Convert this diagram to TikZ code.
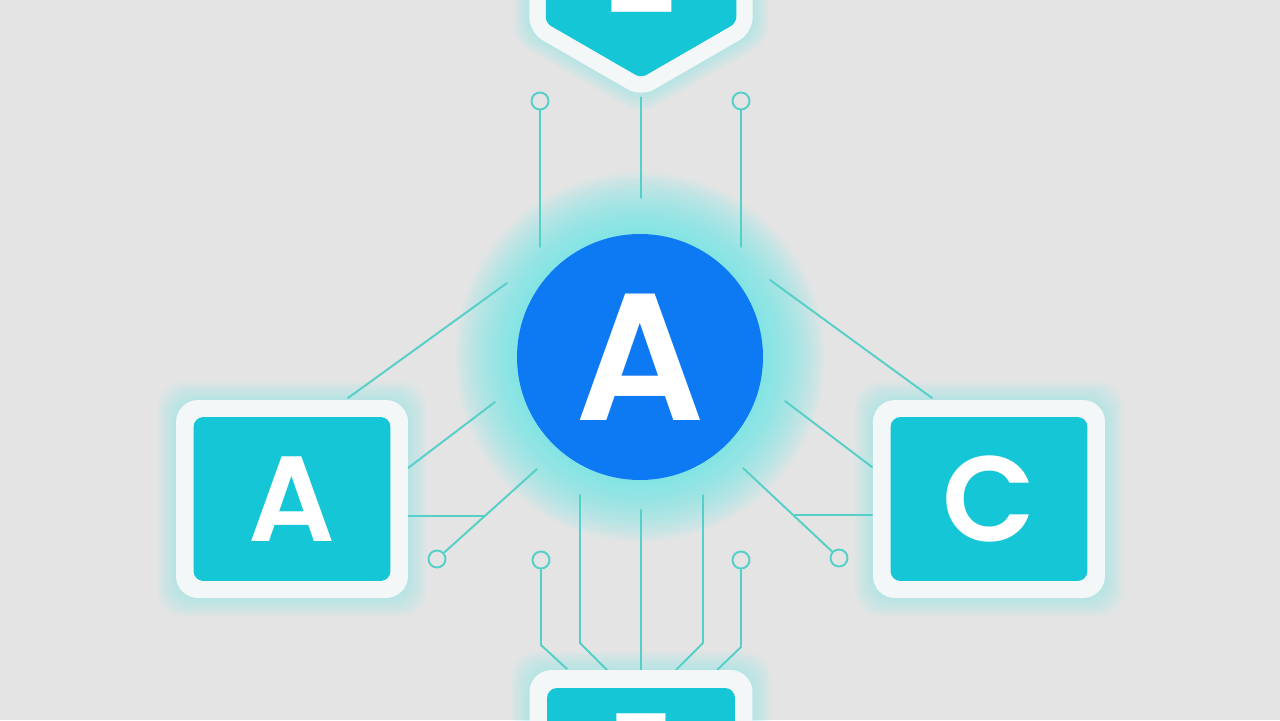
\documentclass[tikz,border=0pt]{standalone}
\usepackage{fontspec}
\setmainfont{Poppins}[BoldFont={Poppins SemiBold}]
\usepackage{tikz}
\usetikzlibrary{shapes.geometric,backgrounds}
\definecolor{bgray}{HTML}{E4E4E4}
\definecolor{hubblue}{HTML}{0D7AF3}
\definecolor{tealbox}{HTML}{14C6D6}
\definecolor{rimwhite}{HTML}{F4F7F7}
\definecolor{wirecol}{HTML}{55D0C8}
\definecolor{glowcyan}{HTML}{62E8F0}
\tikzstyle{wire} = [draw=wirecol, line width=1.1pt, line join=round, line cap=round]

\begin{document}
\begin{tikzpicture}
 [x=0.02cm, y=-0.02cm,
  letters/.style={text=white, font=\fontsize{69}{69}\selectfont\bfseries},
  hub/.style={circle, fill=hubblue, minimum size=4.92cm, inner sep=0pt,
    text=white, font=\fontsize{103}{103}\selectfont\bfseries},
  rim/.style={fill=rimwhite, rounded corners=0.44cm, inner sep=0pt,
    minimum width=4.64cm, minimum height=3.96cm},
  core/.style={fill=tealbox, rounded corners=0.2cm, inner sep=0pt,
    minimum width=3.94cm, minimum height=3.28cm, letters},
  hexrim/.style={regular polygon, regular polygon sides=6, shape border rotate=30,
    fill=rimwhite, rounded corners=0.3cm, minimum size=5.16cm, inner sep=0pt},
  hexcore/.style={regular polygon, regular polygon sides=6, shape border rotate=30,
    fill=tealbox, rounded corners=0.12cm, minimum size=4.4cm, inner sep=0pt, letters},
  dot/.style={circle, draw=wirecol, fill=bgray, line width=1.1pt,
    minimum size=0.34cm, inner sep=0pt}]

  \useasboundingbox (0,0) rectangle (1280,720);
  \clip (0,0) rectangle (1280,720);

  \node[hub] (hub) at (640,357) {A};
  \node[rim] (rimA) at (292,499) {};
  \node[core] (boxA) at (292,499) {A};
  \node[rim] (rimC) at (989,499) {};
  \node[core] (boxC) at (989,499) {C};
  \node[hexrim] (hexRim) at (641,-32) {};
  \node[hexcore] (hexTop) at (641,-32) {2};
  \node[rim, minimum width=4.46cm, minimum height=3.44cm] (rimE) at (641,756) {};
  \node[core, minimum width=3.76cm, minimum height=2.72cm] (boxE) at (641,756) {E};

  \foreach \n/\x/\y in {dotTL/540/101, dotTR/741/101, dotLA/437/559,
                        dotBL/541/560, dotBR/741/560, dotRC/839/558}
    \node[dot] (\n) at (\x,\y) {};

  \foreach \n/\x/\y in {tl/540/247, tm/641/198, tr/741/247,
      la1/507/283, la1e/348/398, la2/495/402, la2e/408/468, la3/537/469,
      la4/408/516, la4e/485/516,
      rc1/770/280, rc1e/932/398, rc2/785/401, rc2e/872/467, rc3/743/468,
      rc4/872/515, rc4e/795/515,
      b1k/541/645, b1e/567/669, b2/580/495, b2k/580/643, b2e/608/671,
      b3/641/510, b3e/641/670, b4/703/495, b4k/703/643, b4e/675/671,
      b5k/741/647, b5e/717/670}
    \coordinate (\n) at (\x,\y);

  \begin{scope}[on background layer]
    \fill[bgray] (0,0) rectangle (1280,720);

    % glow
    \foreach \r in {125,128,...,185}
      \fill[glowcyan, opacity=0.055] (hub.center) circle[radius=\r*0.02cm];
    \foreach \n in {rimA,rimC,rimE}
      \foreach \g in {3,6,...,18}
        \fill[glowcyan, opacity=0.06, rounded corners=0.5cm]
          ([xshift=-\g*0.02cm, yshift=-\g*0.02cm]\n.south west) rectangle
          ([xshift=\g*0.02cm, yshift=\g*0.02cm]\n.north east);
    \foreach \g [evaluate=\g as \R using (129+\g)*0.02] in {3,6,...,18}
      \fill[glowcyan, opacity=0.06, shift={(hexRim.center)}, rounded corners=0.3cm]
        (-90:\R cm) -- (-30:\R cm) -- (30:\R cm) -- (90:\R cm)
        -- (150:\R cm) -- (210:\R cm) -- cycle;

    \foreach \a/\b in {dotTL/tl, hexRim/tm, dotTR/tr, la1/la1e, la2/la2e,
                       la3/dotLA, la4/la4e, rc1/rc1e, rc2/rc2e, rc3/dotRC,
                       rc4e/rc4, b3/b3e}
      \draw[wire] (\a) -- (\b);
    \foreach \a/\k/\b in {dotBL/b1k/b1e, b2/b2k/b2e, b4/b4k/b4e, dotBR/b5k/b5e}
      \draw[wire] (\a) -- (\k) -- (\b);
  \end{scope}
\end{tikzpicture}
\end{document}
